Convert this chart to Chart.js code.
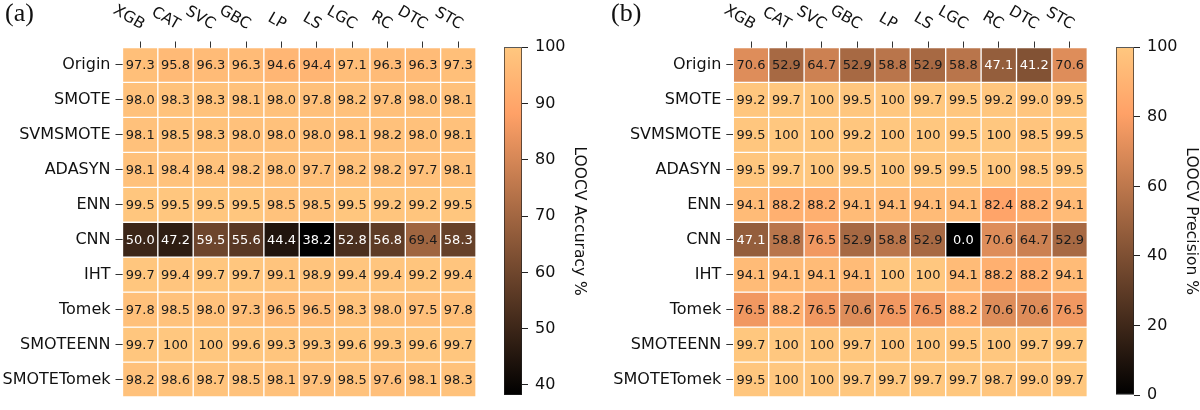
<!DOCTYPE html>
<html>
<head>
<meta charset="utf-8">
<script src="https://cdn.jsdelivr.net/npm/chart.js@4.4.1/dist/chart.umd.min.js"></script>
<style>
  html, body { margin: 0; padding: 0; background: #fff; }
  #wrap { position: relative; width: 1200px; height: 410px; overflow: hidden; }
  .box { position: absolute; top: 0; height: 410px; }
  .panel { position: absolute; top: 0; font: 26px 'Liberation Serif', serif; line-height: 26px; color: #111; }
</style>
</head>
<body>
<div id="wrap">
  <div class="box" style="left:0;width:490px"><canvas id="heatA"></canvas></div>
  <div class="box" style="left:490px;width:110px"><canvas id="barA"></canvas></div>
  <div class="box" style="left:600px;width:500px"><canvas id="heatB"></canvas></div>
  <div class="box" style="left:1100px;width:100px"><canvas id="barB"></canvas></div>
  <div class="panel" style="left:5px">(a)</div>
  <div class="panel" style="left:611px">(b)</div>
</div>
<script>
/* ===== DATA ===== */
const models = ['XGB', 'CAT', 'SVC', 'GBC', 'LP', 'LS', 'LGC', 'RC', 'DTC', 'STC'];
const methods = ['Origin', 'SMOTE', 'SVMSMOTE', 'ADASYN', 'ENN', 'CNN', 'IHT', 'Tomek', 'SMOTEENN', 'SMOTETomek'];

const accuracy = [
    [97.3, 95.8, 96.3, 96.3, 94.6, 94.4, 97.1, 96.3, 96.3, 97.3],
    [98.0, 98.3, 98.3, 98.1, 98.0, 97.8, 98.2, 97.8, 98.0, 98.1],
    [98.1, 98.5, 98.3, 98.0, 98.0, 98.0, 98.1, 98.2, 98.0, 98.1],
    [98.1, 98.4, 98.4, 98.2, 98.0, 97.7, 98.2, 98.2, 97.7, 98.1],
    [99.5, 99.5, 99.5, 99.5, 98.5, 98.5, 99.5, 99.2, 99.2, 99.5],
    [50.0, 47.2, 59.5, 55.6, 44.4, 38.2, 52.8, 56.8, 69.4, 58.3],
    [99.7, 99.4, 99.7, 99.7, 99.1, 98.9, 99.4, 99.4, 99.2, 99.4],
    [97.8, 98.5, 98.0, 97.3, 96.5, 96.5, 98.3, 98.0, 97.5, 97.8],
    [99.7, 100, 100, 99.6, 99.3, 99.3, 99.6, 99.3, 99.6, 99.7],
    [98.2, 98.6, 98.7, 98.5, 98.1, 97.9, 98.5, 97.6, 98.1, 98.3],
];

const precision = [
    [70.6, 52.9, 64.7, 52.9, 58.8, 52.9, 58.8, 47.1, 41.2, 70.6],
    [99.2, 99.7, 100, 99.5, 100, 99.7, 99.5, 99.2, 99.0, 99.5],
    [99.5, 100, 100, 99.2, 100, 100, 99.5, 100, 98.5, 99.5],
    [99.5, 99.7, 100, 99.5, 100, 99.5, 99.5, 100, 98.5, 99.5],
    [94.1, 88.2, 88.2, 94.1, 94.1, 94.1, 94.1, 82.4, 88.2, 94.1],
    [47.1, 58.8, 76.5, 52.9, 58.8, 52.9, 0.0, 70.6, 64.7, 52.9],
    [94.1, 94.1, 94.1, 94.1, 100, 100, 94.1, 88.2, 88.2, 94.1],
    [76.5, 88.2, 76.5, 70.6, 76.5, 76.5, 88.2, 70.6, 70.6, 76.5],
    [99.7, 100, 100, 99.7, 100, 100, 99.5, 100, 99.7, 99.7],
    [99.5, 100, 100, 99.7, 99.7, 99.7, 99.7, 98.7, 99.0, 99.7],
];

const accTicks = [40, 50, 60, 70, 80, 90, 100];
const precTicks = [0, 20, 40, 60, 80, 100];

Chart.defaults.font.family = "'DejaVu Sans', sans-serif";
Chart.defaults.color = '#111';

// matplotlib "copper" colormap
function copper(t) {
    t = Math.max(0, Math.min(1, t));
    const r = Math.min(1, t / 0.809524);
    const g = 0.7812 * t;
    const b = 0.4975 * t;
    return 'rgb(' + Math.round(r * 255) + ',' + Math.round(g * 255) + ',' + Math.round(b * 255) + ')';
}

function fmt(v) {
    return v >= 100 ? '100' : v.toFixed(1);
}

/* ===== HEATMAP ===== */
function heatmap(id, values, vmin, vmax, yWidth, padRight) {
    const norm = v => (v - vmin) / (vmax - vmin);

    // numbers inside the cells
    const cellText = {
        id: 'cellText',
        afterDatasetsDraw(chart) {
            const ctx = chart.ctx;
            ctx.save();
            ctx.font = "13px 'DejaVu Sans'";
            ctx.textAlign = 'center';
            ctx.textBaseline = 'middle';
            chart.data.datasets.forEach((ds, i) => {
                chart.getDatasetMeta(i).data.forEach((bar, j) => {
                    const v = values[i][j];
                    ctx.fillStyle = norm(v) < 0.5 ? '#fff' : '#1a1a1a';
                    ctx.fillText(fmt(v), bar.x, (bar.y + bar.base) / 2 + 1);
                });
            });
            ctx.restore();
        }
    };

    // slanted column names above the ticks
    const colNames = {
        id: 'colNames',
        afterDraw(chart) {
            const ctx = chart.ctx;
            const xs = chart.scales.x;
            ctx.save();
            ctx.font = "15.5px 'DejaVu Sans'";
            ctx.fillStyle = '#111';
            ctx.textAlign = 'right';
            ctx.textBaseline = 'middle';
            models.forEach((m, j) => {
                ctx.save();
                ctx.translate(xs.getPixelForValue(j) + 3, 26);
                ctx.rotate(Math.PI / 6);
                ctx.fillText(m, 0, 0);
                ctx.restore();
            });
            ctx.restore();
        }
    };

    return new Chart(document.getElementById(id), {
        type: 'bar',
        data: {
            labels: models,
            datasets: methods.map((m, i) => ({
                label: m,
                data: models.map(() => [i, i + 1]),
                backgroundColor: values[i].map(v => copper(norm(v))),
                borderColor: '#fff',
                borderWidth: 1,
                borderSkipped: false,
                barPercentage: 1,
                categoryPercentage: 1,
                grouped: false,
            })),
        },
        options: {
            responsive: true,
            maintainAspectRatio: false,
            animation: false,
            events: [],
            layout: { padding: { left: 0, right: padRight, top: 0, bottom: 8.5 } },
            plugins: { legend: { display: false }, tooltip: { enabled: false } },
            scales: {
                x: {
                    type: 'category',
                    position: 'top',
                    offset: true,
                    grid: { offset: false, drawOnChartArea: false, tickLength: 6, color: '#333' },
                    border: { display: false },
                    ticks: { display: false },
                    afterFit: s => { s.height = 47.5; },
                },
                y: {
                    type: 'linear',
                    reverse: true,
                    min: 0,
                    max: 10,
                    grid: { drawOnChartArea: false, tickLength: 7, color: '#333' },
                    border: { display: false },
                    afterBuildTicks: s => { s.ticks = methods.map((_, i) => ({ value: i + 0.5 })); },
                    ticks: {
                        autoSkip: false,
                        padding: 5,
                        color: '#111',
                        font: { size: 16, lineHeight: 1 },
                        callback: v => methods[Math.floor(v)],
                    },
                    afterFit: s => { s.width = yWidth; },
                },
            },
        },
        plugins: [cellText, colNames],
    });
}

/* ===== COLORBAR ===== */
function colorbar(id, vmin, vmax, ticks, title, padLeft, padRight) {
    return new Chart(document.getElementById(id), {
        type: 'bar',
        data: {
            labels: [''],
            datasets: [{
                data: [[vmin, vmax]],
                backgroundColor: c => {
                    const a = c.chart.chartArea;
                    if (!a) return copper(1);
                    const g = c.chart.ctx.createLinearGradient(0, a.bottom, 0, a.top);
                    g.addColorStop(0, copper(0));
                    g.addColorStop(0.809524, copper(0.809524));
                    g.addColorStop(1, copper(1));
                    return g;
                },
                borderColor: '#222',
                borderWidth: 1,
                borderSkipped: false,
                barPercentage: 1,
                categoryPercentage: 1,
            }],
        },
        options: {
            responsive: true,
            maintainAspectRatio: false,
            animation: false,
            events: [],
            layout: { padding: { left: padLeft, right: padRight, top: 47.3, bottom: 7.5 } },
            plugins: { legend: { display: false }, tooltip: { enabled: false } },
            scales: {
                x: { display: false },
                y: {
                    position: 'right',
                    min: vmin,
                    max: vmax,
                    grid: { drawOnChartArea: false, tickLength: 6, color: '#222' },
                    border: { display: false },
                    afterBuildTicks: s => { s.ticks = ticks.map(v => ({ value: v })); },
                    ticks: { padding: 7, color: '#111', font: { size: 16, lineHeight: 1 } },
                    title: {
                        display: true,
                        text: title,
                        color: '#111',
                        padding: 0,
                        font: { size: 15.5 },
                    },
                    afterFit: s => { s.width = 66; },
                },
            },
        },
    });
}

heatmap('heatA', accuracy, 38.2, 100, 122.5, 14);
colorbar('barA', 38.2, 100, accTicks, 'LOOCV Accuracy %', 14, 12);
heatmap('heatB', precision, 0, 100, 133.3, 12.7);
colorbar('barB', 0, 100, precTicks, 'LOOCV Precision %', 16, 0);
</script>
</body>
</html>
